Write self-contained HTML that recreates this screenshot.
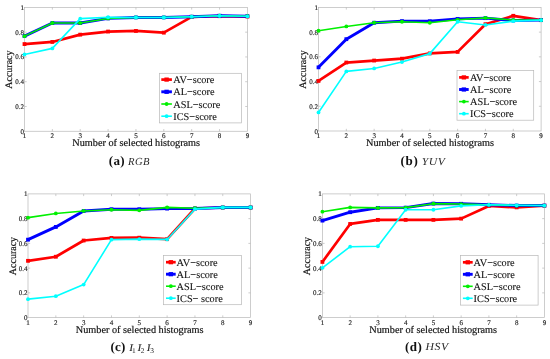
<!DOCTYPE html><html><head><meta charset="utf-8"><title>Figure</title>
<style>html,body{margin:0;padding:0;background:#fff}svg{display:block}text{font-family:"Liberation Serif",serif;text-rendering:geometricPrecision}</style></head><body>
<svg width="550" height="359" viewBox="0 0 550 359">
<rect width="550" height="359" fill="#fff"/>
<g>
<rect x="24.5" y="7.4" width="222.9" height="123.85" fill="none" stroke="#b8b8b8" stroke-width="0.7"/>
<path d="M52.36 131.25v-2.2M52.36 7.4v2.2M80.22 131.25v-2.2M80.22 7.4v2.2M108.09 131.25v-2.2M108.09 7.4v2.2M135.95 131.25v-2.2M135.95 7.4v2.2M163.81 131.25v-2.2M163.81 7.4v2.2M191.68 131.25v-2.2M191.68 7.4v2.2M219.54 131.25v-2.2M219.54 7.4v2.2M24.5 106.48h2.2M247.4 106.48h-2.2M24.5 81.71h2.2M247.4 81.71h-2.2M24.5 56.94h2.2M247.4 56.94h-2.2M24.5 32.17h2.2M247.4 32.17h-2.2" stroke="#b8b8b8" stroke-width="0.7" fill="none"/>
<g font-size="7" fill="#222" stroke="#222" stroke-width="0.15">
<text x="24.5" y="138.45" font-size="7" text-anchor="middle">1</text>
<text x="52.36" y="138.45" font-size="7" text-anchor="middle">2</text>
<text x="80.22" y="138.45" font-size="7" text-anchor="middle">3</text>
<text x="108.09" y="138.45" font-size="7" text-anchor="middle">4</text>
<text x="135.95" y="138.45" font-size="7" text-anchor="middle">5</text>
<text x="163.81" y="138.45" font-size="7" text-anchor="middle">6</text>
<text x="191.68" y="138.45" font-size="7" text-anchor="middle">7</text>
<text x="219.54" y="138.45" font-size="7" text-anchor="middle">8</text>
<text x="247.4" y="138.45" font-size="7" text-anchor="middle">9</text>
<text x="23.9" y="133.75" text-anchor="end">0</text>
<text x="23.9" y="108.98" text-anchor="end">0.2</text>
<text x="23.9" y="84.21" text-anchor="end">0.4</text>
<text x="23.9" y="59.44" text-anchor="end">0.6</text>
<text x="23.9" y="34.67" text-anchor="end">0.8</text>
<text x="23.9" y="9.9" text-anchor="end">1</text>
</g>
<text x="136.2" y="146.1" font-size="10.25" text-anchor="middle" fill="#111" stroke="#111" stroke-width="0.18">Number of selected histograms</text>
<text transform="translate(12.2 69.62) rotate(-90)" font-size="10" text-anchor="middle" fill="#111" stroke="#111" stroke-width="0.18">Accuracy</text>
<polyline points="24.5,44.06 52.36,41.95 80.22,34.65 108.09,31.55 135.95,30.93 163.81,32.67 191.68,16.81 219.54,16.19 247.4,16.56" fill="none" stroke="#ff0000" stroke-width="2.7" stroke-linejoin="round"/>
<rect x="22.6" y="42.16" width="3.8" height="3.8" fill="#ff0000"/>
<rect x="50.46" y="40.05" width="3.8" height="3.8" fill="#ff0000"/>
<rect x="78.32" y="32.75" width="3.8" height="3.8" fill="#ff0000"/>
<rect x="106.19" y="29.65" width="3.8" height="3.8" fill="#ff0000"/>
<rect x="134.05" y="29.03" width="3.8" height="3.8" fill="#ff0000"/>
<rect x="161.91" y="30.77" width="3.8" height="3.8" fill="#ff0000"/>
<rect x="189.78" y="14.91" width="3.8" height="3.8" fill="#ff0000"/>
<rect x="217.64" y="14.29" width="3.8" height="3.8" fill="#ff0000"/>
<rect x="245.5" y="14.66" width="3.8" height="3.8" fill="#ff0000"/>
<polyline points="24.5,36.13 52.36,23.01 80.22,23.01 108.09,18.42 135.95,17.43 163.81,17.43 191.68,16.69 219.54,15.7 247.4,16.19" fill="none" stroke="#0000ff" stroke-width="2.9" stroke-linejoin="round"/>
<rect x="22.6" y="34.23" width="3.8" height="3.8" fill="#0000ff"/>
<rect x="50.46" y="21.11" width="3.8" height="3.8" fill="#0000ff"/>
<rect x="78.32" y="21.11" width="3.8" height="3.8" fill="#0000ff"/>
<rect x="106.19" y="16.52" width="3.8" height="3.8" fill="#0000ff"/>
<rect x="134.05" y="15.53" width="3.8" height="3.8" fill="#0000ff"/>
<rect x="161.91" y="15.53" width="3.8" height="3.8" fill="#0000ff"/>
<rect x="189.78" y="14.79" width="3.8" height="3.8" fill="#0000ff"/>
<rect x="217.64" y="13.8" width="3.8" height="3.8" fill="#0000ff"/>
<rect x="245.5" y="14.29" width="3.8" height="3.8" fill="#0000ff"/>
<polyline points="24.5,36.13 52.36,23.01 80.22,23.01 108.09,18.42 135.95,17.43 163.81,17.43 191.68,16.69 219.54,15.7 247.4,16.19" fill="none" stroke="#00f000" stroke-width="1.6" stroke-linejoin="round"/>
<circle cx="24.5" cy="36.13" r="1.9" fill="#00f000"/>
<circle cx="52.36" cy="23.01" r="1.9" fill="#00f000"/>
<circle cx="80.22" cy="23.01" r="1.9" fill="#00f000"/>
<circle cx="108.09" cy="18.42" r="1.9" fill="#00f000"/>
<circle cx="135.95" cy="17.43" r="1.9" fill="#00f000"/>
<circle cx="163.81" cy="17.43" r="1.9" fill="#00f000"/>
<circle cx="191.68" cy="16.69" r="1.9" fill="#00f000"/>
<circle cx="219.54" cy="15.7" r="1.9" fill="#00f000"/>
<circle cx="247.4" cy="16.19" r="1.9" fill="#00f000"/>
<polyline points="24.5,54.46 52.36,48.39 80.22,18.67 108.09,17.18 135.95,17.43 163.81,17.43 191.68,16.69 219.54,15.82 247.4,16.32" fill="none" stroke="#00ffff" stroke-width="1.6" stroke-linejoin="round"/>
<circle cx="24.5" cy="54.46" r="1.9" fill="#00ffff"/>
<circle cx="52.36" cy="48.39" r="1.9" fill="#00ffff"/>
<circle cx="80.22" cy="18.67" r="1.9" fill="#00ffff"/>
<circle cx="108.09" cy="17.18" r="1.9" fill="#00ffff"/>
<circle cx="135.95" cy="17.43" r="1.9" fill="#00ffff"/>
<circle cx="163.81" cy="17.43" r="1.9" fill="#00ffff"/>
<circle cx="191.68" cy="16.69" r="1.9" fill="#00ffff"/>
<circle cx="219.54" cy="15.82" r="1.9" fill="#00ffff"/>
<circle cx="247.4" cy="16.32" r="1.9" fill="#00ffff"/>
<rect x="159.5" y="73.3" width="82.1" height="49.6" fill="#fff" stroke="#b8b8b8" stroke-width="0.7"/>
<line x1="161.3" y1="79.6" x2="171.9" y2="79.6" stroke="#ff0000" stroke-width="2.7"/>
<rect x="164.4" y="77.5" width="4.4" height="4.2" fill="#ff0000"/>
<text x="173.3" y="83.2" font-size="10.3" fill="#111" stroke="#111" stroke-width="0.1">AV−score</text>
<line x1="161.3" y1="91.8" x2="171.9" y2="91.8" stroke="#0000ff" stroke-width="2.9"/>
<rect x="164.4" y="89.7" width="4.4" height="4.2" fill="#0000ff"/>
<text x="173.3" y="95.4" font-size="10.3" fill="#111" stroke="#111" stroke-width="0.1">AL−score</text>
<line x1="161.3" y1="104" x2="171.9" y2="104" stroke="#00f000" stroke-width="1.6"/>
<circle cx="166.6" cy="104" r="1.9" fill="#00f000"/>
<text x="173.3" y="107.6" font-size="10.3" fill="#111" stroke="#111" stroke-width="0.1">ASL−score</text>
<line x1="161.3" y1="116.2" x2="171.9" y2="116.2" stroke="#00ffff" stroke-width="1.6"/>
<circle cx="166.6" cy="116.2" r="1.9" fill="#00ffff"/>
<text x="173.3" y="119.8" font-size="10.3" fill="#111" stroke="#111" stroke-width="0.1">ICS−score</text>
<text x="108.8" y="165" font-size="13" font-weight="bold" fill="#111" textLength="15.7" lengthAdjust="spacing">(a)</text>
<text transform="translate(128.1 164.7) scale(0.983 1)" font-size="10.8" font-style="italic" fill="#2a2a2a" textLength="21.88" lengthAdjust="spacing">RGB</text>
</g>
<g>
<rect x="318.5" y="7.4" width="222.6" height="123.6" fill="none" stroke="#b8b8b8" stroke-width="0.7"/>
<path d="M346.32 131v-2.2M346.32 7.4v2.2M374.15 131v-2.2M374.15 7.4v2.2M401.98 131v-2.2M401.98 7.4v2.2M429.8 131v-2.2M429.8 7.4v2.2M457.62 131v-2.2M457.62 7.4v2.2M485.45 131v-2.2M485.45 7.4v2.2M513.28 131v-2.2M513.28 7.4v2.2M318.5 106.28h2.2M541.1 106.28h-2.2M318.5 81.56h2.2M541.1 81.56h-2.2M318.5 56.84h2.2M541.1 56.84h-2.2M318.5 32.12h2.2M541.1 32.12h-2.2" stroke="#b8b8b8" stroke-width="0.7" fill="none"/>
<g font-size="7" fill="#222" stroke="#222" stroke-width="0.15">
<text x="318.5" y="138.2" font-size="7" text-anchor="middle">1</text>
<text x="346.32" y="138.2" font-size="7" text-anchor="middle">2</text>
<text x="374.15" y="138.2" font-size="7" text-anchor="middle">3</text>
<text x="401.98" y="138.2" font-size="7" text-anchor="middle">4</text>
<text x="429.8" y="138.2" font-size="7" text-anchor="middle">5</text>
<text x="457.62" y="138.2" font-size="7" text-anchor="middle">6</text>
<text x="485.45" y="138.2" font-size="7" text-anchor="middle">7</text>
<text x="513.28" y="138.2" font-size="7" text-anchor="middle">8</text>
<text x="541.1" y="138.2" font-size="7" text-anchor="middle">9</text>
<text x="317.9" y="133.5" text-anchor="end">0</text>
<text x="317.9" y="108.78" text-anchor="end">0.2</text>
<text x="317.9" y="84.06" text-anchor="end">0.4</text>
<text x="317.9" y="59.34" text-anchor="end">0.6</text>
<text x="317.9" y="34.62" text-anchor="end">0.8</text>
<text x="317.9" y="9.9" text-anchor="end">1</text>
</g>
<text x="430" y="146.1" font-size="10.25" text-anchor="middle" fill="#111" stroke="#111" stroke-width="0.18">Number of selected histograms</text>
<text transform="translate(306.2 69.5) rotate(-90)" font-size="10" text-anchor="middle" fill="#111" stroke="#111" stroke-width="0.18">Accuracy</text>
<polyline points="318.5,80.94 346.32,62.53 374.15,60.55 401.98,58.69 429.8,53.38 457.62,51.9 485.45,24.21 513.28,15.8 541.1,20.13" fill="none" stroke="#ff0000" stroke-width="2.7" stroke-linejoin="round"/>
<rect x="316.6" y="79.04" width="3.8" height="3.8" fill="#ff0000"/>
<rect x="344.43" y="60.63" width="3.8" height="3.8" fill="#ff0000"/>
<rect x="372.25" y="58.65" width="3.8" height="3.8" fill="#ff0000"/>
<rect x="400.08" y="56.79" width="3.8" height="3.8" fill="#ff0000"/>
<rect x="427.9" y="51.48" width="3.8" height="3.8" fill="#ff0000"/>
<rect x="455.73" y="50" width="3.8" height="3.8" fill="#ff0000"/>
<rect x="483.55" y="22.31" width="3.8" height="3.8" fill="#ff0000"/>
<rect x="511.38" y="13.9" width="3.8" height="3.8" fill="#ff0000"/>
<rect x="539.2" y="18.23" width="3.8" height="3.8" fill="#ff0000"/>
<polyline points="318.5,67.35 346.32,39.17 374.15,22.73 401.98,21.12 429.8,21.24 457.62,18.89 485.45,18.15 513.28,20.5 541.1,20.13" fill="none" stroke="#0000ff" stroke-width="2.9" stroke-linejoin="round"/>
<rect x="316.6" y="65.45" width="3.8" height="3.8" fill="#0000ff"/>
<rect x="344.43" y="37.27" width="3.8" height="3.8" fill="#0000ff"/>
<rect x="372.25" y="20.83" width="3.8" height="3.8" fill="#0000ff"/>
<rect x="400.08" y="19.22" width="3.8" height="3.8" fill="#0000ff"/>
<rect x="427.9" y="19.34" width="3.8" height="3.8" fill="#0000ff"/>
<rect x="455.73" y="16.99" width="3.8" height="3.8" fill="#0000ff"/>
<rect x="483.55" y="16.25" width="3.8" height="3.8" fill="#0000ff"/>
<rect x="511.38" y="18.6" width="3.8" height="3.8" fill="#0000ff"/>
<rect x="539.2" y="18.23" width="3.8" height="3.8" fill="#0000ff"/>
<polyline points="318.5,30.76 346.32,26.43 374.15,22.73 401.98,21.74 429.8,22.73 457.62,19.76 485.45,17.91 513.28,20.01 541.1,20.13" fill="none" stroke="#00f000" stroke-width="1.6" stroke-linejoin="round"/>
<circle cx="318.5" cy="30.76" r="1.9" fill="#00f000"/>
<circle cx="346.32" cy="26.43" r="1.9" fill="#00f000"/>
<circle cx="374.15" cy="22.73" r="1.9" fill="#00f000"/>
<circle cx="401.98" cy="21.74" r="1.9" fill="#00f000"/>
<circle cx="429.8" cy="22.73" r="1.9" fill="#00f000"/>
<circle cx="457.62" cy="19.76" r="1.9" fill="#00f000"/>
<circle cx="485.45" cy="17.91" r="1.9" fill="#00f000"/>
<circle cx="513.28" cy="20.01" r="1.9" fill="#00f000"/>
<circle cx="541.1" cy="20.13" r="1.9" fill="#00f000"/>
<polyline points="318.5,112.46 346.32,71.42 374.15,68.46 401.98,62.03 429.8,53.63 457.62,21.74 485.45,24.95 513.28,21.12 541.1,20.13" fill="none" stroke="#00ffff" stroke-width="1.6" stroke-linejoin="round"/>
<circle cx="318.5" cy="112.46" r="1.9" fill="#00ffff"/>
<circle cx="346.32" cy="71.42" r="1.9" fill="#00ffff"/>
<circle cx="374.15" cy="68.46" r="1.9" fill="#00ffff"/>
<circle cx="401.98" cy="62.03" r="1.9" fill="#00ffff"/>
<circle cx="429.8" cy="53.63" r="1.9" fill="#00ffff"/>
<circle cx="457.62" cy="21.74" r="1.9" fill="#00ffff"/>
<circle cx="485.45" cy="24.95" r="1.9" fill="#00ffff"/>
<circle cx="513.28" cy="21.12" r="1.9" fill="#00ffff"/>
<circle cx="541.1" cy="20.13" r="1.9" fill="#00ffff"/>
<rect x="457" y="70.6" width="76.7" height="49.6" fill="#fff" stroke="#b8b8b8" stroke-width="0.7"/>
<line x1="459.1" y1="77.4" x2="468.7" y2="77.4" stroke="#ff0000" stroke-width="2.7"/>
<rect x="461.7" y="75.3" width="4.4" height="4.2" fill="#ff0000"/>
<text x="470" y="81" font-size="10.3" fill="#111" stroke="#111" stroke-width="0.1">AV−score</text>
<line x1="459.1" y1="89.5" x2="468.7" y2="89.5" stroke="#0000ff" stroke-width="2.9"/>
<rect x="461.7" y="87.4" width="4.4" height="4.2" fill="#0000ff"/>
<text x="470" y="93.1" font-size="10.3" fill="#111" stroke="#111" stroke-width="0.1">AL−score</text>
<line x1="459.1" y1="101.6" x2="468.7" y2="101.6" stroke="#00f000" stroke-width="1.6"/>
<circle cx="463.9" cy="101.6" r="1.9" fill="#00f000"/>
<text x="470" y="105.2" font-size="10.3" fill="#111" stroke="#111" stroke-width="0.1">ASL−score</text>
<line x1="459.1" y1="113.7" x2="468.7" y2="113.7" stroke="#00ffff" stroke-width="1.6"/>
<circle cx="463.9" cy="113.7" r="1.9" fill="#00ffff"/>
<text x="470" y="117.3" font-size="10.3" fill="#111" stroke="#111" stroke-width="0.1">ICS−score</text>
<text x="400.6" y="165" font-size="13" font-weight="bold" fill="#111" textLength="17.2" lengthAdjust="spacing">(b)</text>
<text transform="translate(421.7 164.7) scale(1.091 1)" font-size="10.8" font-style="italic" fill="#2a2a2a" textLength="21.26" lengthAdjust="spacing">YUV</text>
</g>
<g>
<rect x="28" y="193.9" width="222.6" height="123.7" fill="none" stroke="#b8b8b8" stroke-width="0.7"/>
<path d="M55.83 317.6v-2.2M55.83 193.9v2.2M83.65 317.6v-2.2M83.65 193.9v2.2M111.47 317.6v-2.2M111.47 193.9v2.2M139.3 317.6v-2.2M139.3 193.9v2.2M167.12 317.6v-2.2M167.12 193.9v2.2M194.95 317.6v-2.2M194.95 193.9v2.2M222.78 317.6v-2.2M222.78 193.9v2.2M28 292.86h2.2M250.6 292.86h-2.2M28 268.12h2.2M250.6 268.12h-2.2M28 243.38h2.2M250.6 243.38h-2.2M28 218.64h2.2M250.6 218.64h-2.2" stroke="#b8b8b8" stroke-width="0.7" fill="none"/>
<g font-size="7" fill="#222" stroke="#222" stroke-width="0.15">
<text x="28" y="324.8" font-size="7" text-anchor="middle">1</text>
<text x="55.83" y="324.8" font-size="7" text-anchor="middle">2</text>
<text x="83.65" y="324.8" font-size="7" text-anchor="middle">3</text>
<text x="111.47" y="324.8" font-size="7" text-anchor="middle">4</text>
<text x="139.3" y="324.8" font-size="7" text-anchor="middle">5</text>
<text x="167.12" y="324.8" font-size="7" text-anchor="middle">6</text>
<text x="194.95" y="324.8" font-size="7" text-anchor="middle">7</text>
<text x="222.78" y="324.8" font-size="7" text-anchor="middle">8</text>
<text x="250.6" y="324.8" font-size="7" text-anchor="middle">9</text>
<text x="27.4" y="320.1" text-anchor="end">0</text>
<text x="27.4" y="295.36" text-anchor="end">0.2</text>
<text x="27.4" y="270.62" text-anchor="end">0.4</text>
<text x="27.4" y="245.88" text-anchor="end">0.6</text>
<text x="27.4" y="221.14" text-anchor="end">0.8</text>
<text x="27.4" y="196.4" text-anchor="end">1</text>
</g>
<text x="139.7" y="332.7" font-size="10.25" text-anchor="middle" fill="#111" stroke="#111" stroke-width="0.18">Number of selected histograms</text>
<text transform="translate(15.6 256.05) rotate(-90)" font-size="10" text-anchor="middle" fill="#111" stroke="#111" stroke-width="0.18">Accuracy</text>
<polyline points="28,260.82 55.83,256.74 83.65,240.53 111.47,237.94 139.3,237.69 167.12,239.17 194.95,208.5 222.78,207.51 250.6,207.51" fill="none" stroke="#ff0000" stroke-width="2.7" stroke-linejoin="round"/>
<rect x="26.1" y="258.92" width="3.8" height="3.8" fill="#ff0000"/>
<rect x="53.93" y="254.84" width="3.8" height="3.8" fill="#ff0000"/>
<rect x="81.75" y="238.63" width="3.8" height="3.8" fill="#ff0000"/>
<rect x="109.57" y="236.04" width="3.8" height="3.8" fill="#ff0000"/>
<rect x="137.4" y="235.79" width="3.8" height="3.8" fill="#ff0000"/>
<rect x="165.22" y="237.27" width="3.8" height="3.8" fill="#ff0000"/>
<rect x="193.05" y="206.6" width="3.8" height="3.8" fill="#ff0000"/>
<rect x="220.88" y="205.61" width="3.8" height="3.8" fill="#ff0000"/>
<rect x="248.7" y="205.61" width="3.8" height="3.8" fill="#ff0000"/>
<polyline points="28,239.67 55.83,226.93 83.65,210.97 111.47,209.24 139.3,209.24 167.12,208.62 194.95,208.5 222.78,207.51 250.6,207.51" fill="none" stroke="#0000ff" stroke-width="2.9" stroke-linejoin="round"/>
<rect x="26.1" y="237.77" width="3.8" height="3.8" fill="#0000ff"/>
<rect x="53.93" y="225.03" width="3.8" height="3.8" fill="#0000ff"/>
<rect x="81.75" y="209.07" width="3.8" height="3.8" fill="#0000ff"/>
<rect x="109.57" y="207.34" width="3.8" height="3.8" fill="#0000ff"/>
<rect x="137.4" y="207.34" width="3.8" height="3.8" fill="#0000ff"/>
<rect x="165.22" y="206.72" width="3.8" height="3.8" fill="#0000ff"/>
<rect x="193.05" y="206.6" width="3.8" height="3.8" fill="#0000ff"/>
<rect x="220.88" y="205.61" width="3.8" height="3.8" fill="#0000ff"/>
<rect x="248.7" y="205.61" width="3.8" height="3.8" fill="#0000ff"/>
<polyline points="28,217.65 55.83,213.44 83.65,210.97 111.47,209.73 139.3,210.35 167.12,207.38 194.95,208.25 222.78,207.51 250.6,207.51" fill="none" stroke="#00f000" stroke-width="1.6" stroke-linejoin="round"/>
<circle cx="28" cy="217.65" r="1.9" fill="#00f000"/>
<circle cx="55.83" cy="213.44" r="1.9" fill="#00f000"/>
<circle cx="83.65" cy="210.97" r="1.9" fill="#00f000"/>
<circle cx="111.47" cy="209.73" r="1.9" fill="#00f000"/>
<circle cx="139.3" cy="210.35" r="1.9" fill="#00f000"/>
<circle cx="167.12" cy="207.38" r="1.9" fill="#00f000"/>
<circle cx="194.95" cy="208.25" r="1.9" fill="#00f000"/>
<circle cx="222.78" cy="207.51" r="1.9" fill="#00f000"/>
<circle cx="250.6" cy="207.51" r="1.9" fill="#00f000"/>
<polyline points="28,299.17 55.83,296.2 83.65,284.57 111.47,239.67 139.3,239.17 167.12,239.42 194.95,209.12 222.78,207.38 250.6,207.38" fill="none" stroke="#00ffff" stroke-width="1.6" stroke-linejoin="round"/>
<circle cx="28" cy="299.17" r="1.9" fill="#00ffff"/>
<circle cx="55.83" cy="296.2" r="1.9" fill="#00ffff"/>
<circle cx="83.65" cy="284.57" r="1.9" fill="#00ffff"/>
<circle cx="111.47" cy="239.67" r="1.9" fill="#00ffff"/>
<circle cx="139.3" cy="239.17" r="1.9" fill="#00ffff"/>
<circle cx="167.12" cy="239.42" r="1.9" fill="#00ffff"/>
<circle cx="194.95" cy="209.12" r="1.9" fill="#00ffff"/>
<circle cx="222.78" cy="207.38" r="1.9" fill="#00ffff"/>
<circle cx="250.6" cy="207.38" r="1.9" fill="#00ffff"/>
<rect x="163.4" y="255.6" width="78.2" height="49.1" fill="#fff" stroke="#b8b8b8" stroke-width="0.7"/>
<line x1="166" y1="262.2" x2="175.7" y2="262.2" stroke="#ff0000" stroke-width="2.7"/>
<rect x="168.65" y="260.1" width="4.4" height="4.2" fill="#ff0000"/>
<text x="176.6" y="266.3" font-size="10.3" fill="#111" stroke="#111" stroke-width="0.1">AV−score</text>
<line x1="166" y1="274.2" x2="175.7" y2="274.2" stroke="#0000ff" stroke-width="2.9"/>
<rect x="168.65" y="272.1" width="4.4" height="4.2" fill="#0000ff"/>
<text x="176.6" y="278.3" font-size="10.3" fill="#111" stroke="#111" stroke-width="0.1">AL−score</text>
<line x1="166" y1="286.2" x2="175.7" y2="286.2" stroke="#00f000" stroke-width="1.6"/>
<circle cx="170.85" cy="286.2" r="1.9" fill="#00f000"/>
<text x="176.6" y="290.3" font-size="10.3" fill="#111" stroke="#111" stroke-width="0.1">ASL−score</text>
<line x1="166" y1="298.2" x2="175.7" y2="298.2" stroke="#00ffff" stroke-width="1.6"/>
<circle cx="170.85" cy="298.2" r="1.9" fill="#00ffff"/>
<text x="176.6" y="302.3" font-size="10.3" fill="#111" stroke="#111" stroke-width="0.1">ICS− score</text>
<text x="110.6" y="350.5" font-size="13" font-weight="bold" fill="#111" textLength="14.8" lengthAdjust="spacing">(c)</text>
<text x="129.4" y="350.5" font-size="10" font-style="italic" fill="#222" stroke="#222" stroke-width="0.2">I</text>
<text x="131.9" y="353.1" font-size="7.4" fill="#222">1</text>
<text x="137.8" y="350.5" font-size="10" font-style="italic" fill="#222" stroke="#222" stroke-width="0.2">I</text>
<text x="140.8" y="353.1" font-size="7.4" fill="#222">2</text>
<text x="147" y="350.5" font-size="10" font-style="italic" fill="#222" stroke="#222" stroke-width="0.2">I</text>
<text x="150.3" y="353.1" font-size="7.4" fill="#222">3</text>
</g>
<g>
<rect x="322.4" y="193.9" width="222" height="123.7" fill="none" stroke="#b8b8b8" stroke-width="0.7"/>
<path d="M350.15 317.6v-2.2M350.15 193.9v2.2M377.9 317.6v-2.2M377.9 193.9v2.2M405.65 317.6v-2.2M405.65 193.9v2.2M433.4 317.6v-2.2M433.4 193.9v2.2M461.15 317.6v-2.2M461.15 193.9v2.2M488.9 317.6v-2.2M488.9 193.9v2.2M516.65 317.6v-2.2M516.65 193.9v2.2M322.4 292.86h2.2M544.4 292.86h-2.2M322.4 268.12h2.2M544.4 268.12h-2.2M322.4 243.38h2.2M544.4 243.38h-2.2M322.4 218.64h2.2M544.4 218.64h-2.2" stroke="#b8b8b8" stroke-width="0.7" fill="none"/>
<g font-size="7" fill="#222" stroke="#222" stroke-width="0.15">
<text x="322.4" y="324.8" font-size="7" text-anchor="middle">1</text>
<text x="350.15" y="324.8" font-size="7" text-anchor="middle">2</text>
<text x="377.9" y="324.8" font-size="7" text-anchor="middle">3</text>
<text x="405.65" y="324.8" font-size="7" text-anchor="middle">4</text>
<text x="433.4" y="324.8" font-size="7" text-anchor="middle">5</text>
<text x="461.15" y="324.8" font-size="7" text-anchor="middle">6</text>
<text x="488.9" y="324.8" font-size="7" text-anchor="middle">7</text>
<text x="516.65" y="324.8" font-size="7" text-anchor="middle">8</text>
<text x="544.4" y="324.8" font-size="7" text-anchor="middle">9</text>
<text x="321.8" y="320.1" text-anchor="end">0</text>
<text x="321.8" y="295.36" text-anchor="end">0.2</text>
<text x="321.8" y="270.62" text-anchor="end">0.4</text>
<text x="321.8" y="245.88" text-anchor="end">0.6</text>
<text x="321.8" y="221.14" text-anchor="end">0.8</text>
<text x="321.8" y="196.4" text-anchor="end">1</text>
</g>
<text x="433.2" y="332.7" font-size="10.25" text-anchor="middle" fill="#111" stroke="#111" stroke-width="0.18">Number of selected histograms</text>
<text transform="translate(310.1 256.05) rotate(-90)" font-size="10" text-anchor="middle" fill="#111" stroke="#111" stroke-width="0.18">Accuracy</text>
<polyline points="322.4,261.94 350.15,223.96 377.9,219.88 405.65,219.88 433.4,219.88 461.15,218.64 488.9,205.9 516.65,207.38 544.4,205.65" fill="none" stroke="#ff0000" stroke-width="2.7" stroke-linejoin="round"/>
<rect x="320.5" y="260.04" width="3.8" height="3.8" fill="#ff0000"/>
<rect x="348.25" y="222.06" width="3.8" height="3.8" fill="#ff0000"/>
<rect x="376" y="217.98" width="3.8" height="3.8" fill="#ff0000"/>
<rect x="403.75" y="217.98" width="3.8" height="3.8" fill="#ff0000"/>
<rect x="431.5" y="217.98" width="3.8" height="3.8" fill="#ff0000"/>
<rect x="459.25" y="216.74" width="3.8" height="3.8" fill="#ff0000"/>
<rect x="487" y="204" width="3.8" height="3.8" fill="#ff0000"/>
<rect x="514.75" y="205.48" width="3.8" height="3.8" fill="#ff0000"/>
<rect x="542.5" y="203.75" width="3.8" height="3.8" fill="#ff0000"/>
<polyline points="322.4,220.62 350.15,212.21 377.9,207.88 405.65,207.63 433.4,203.55 461.15,203.8 488.9,204.79 516.65,205.53 544.4,205.53" fill="none" stroke="#0000ff" stroke-width="2.9" stroke-linejoin="round"/>
<rect x="320.5" y="218.72" width="3.8" height="3.8" fill="#0000ff"/>
<rect x="348.25" y="210.31" width="3.8" height="3.8" fill="#0000ff"/>
<rect x="376" y="205.98" width="3.8" height="3.8" fill="#0000ff"/>
<rect x="403.75" y="205.73" width="3.8" height="3.8" fill="#0000ff"/>
<rect x="431.5" y="201.65" width="3.8" height="3.8" fill="#0000ff"/>
<rect x="459.25" y="201.9" width="3.8" height="3.8" fill="#0000ff"/>
<rect x="487" y="202.89" width="3.8" height="3.8" fill="#0000ff"/>
<rect x="514.75" y="203.63" width="3.8" height="3.8" fill="#0000ff"/>
<rect x="542.5" y="203.63" width="3.8" height="3.8" fill="#0000ff"/>
<polyline points="322.4,211.71 350.15,207.38 377.9,207.88 405.65,207.63 433.4,203.67 461.15,204.04 488.9,204.79 516.65,205.53 544.4,205.53" fill="none" stroke="#00f000" stroke-width="1.6" stroke-linejoin="round"/>
<circle cx="322.4" cy="211.71" r="1.9" fill="#00f000"/>
<circle cx="350.15" cy="207.38" r="1.9" fill="#00f000"/>
<circle cx="377.9" cy="207.88" r="1.9" fill="#00f000"/>
<circle cx="405.65" cy="207.63" r="1.9" fill="#00f000"/>
<circle cx="433.4" cy="203.67" r="1.9" fill="#00f000"/>
<circle cx="461.15" cy="204.04" r="1.9" fill="#00f000"/>
<circle cx="488.9" cy="204.79" r="1.9" fill="#00f000"/>
<circle cx="516.65" cy="205.53" r="1.9" fill="#00f000"/>
<circle cx="544.4" cy="205.53" r="1.9" fill="#00f000"/>
<polyline points="322.4,267.87 350.15,246.72 377.9,246.23 405.65,209.73 433.4,209.73 461.15,205.9 488.9,204.79 516.65,205.28 544.4,205.53" fill="none" stroke="#00ffff" stroke-width="1.6" stroke-linejoin="round"/>
<circle cx="322.4" cy="267.87" r="1.9" fill="#00ffff"/>
<circle cx="350.15" cy="246.72" r="1.9" fill="#00ffff"/>
<circle cx="377.9" cy="246.23" r="1.9" fill="#00ffff"/>
<circle cx="405.65" cy="209.73" r="1.9" fill="#00ffff"/>
<circle cx="433.4" cy="209.73" r="1.9" fill="#00ffff"/>
<circle cx="461.15" cy="205.9" r="1.9" fill="#00ffff"/>
<circle cx="488.9" cy="204.79" r="1.9" fill="#00ffff"/>
<circle cx="516.65" cy="205.28" r="1.9" fill="#00ffff"/>
<circle cx="544.4" cy="205.53" r="1.9" fill="#00ffff"/>
<rect x="460.6" y="255.6" width="77.5" height="49.5" fill="#fff" stroke="#b8b8b8" stroke-width="0.7"/>
<line x1="462.9" y1="262.3" x2="472.7" y2="262.3" stroke="#ff0000" stroke-width="2.7"/>
<rect x="465.6" y="260.2" width="4.4" height="4.2" fill="#ff0000"/>
<text x="473.6" y="266.3" font-size="10.3" fill="#111" stroke="#111" stroke-width="0.1">AV−score</text>
<line x1="462.9" y1="274.3" x2="472.7" y2="274.3" stroke="#0000ff" stroke-width="2.9"/>
<rect x="465.6" y="272.2" width="4.4" height="4.2" fill="#0000ff"/>
<text x="473.6" y="278.3" font-size="10.3" fill="#111" stroke="#111" stroke-width="0.1">AL−score</text>
<line x1="462.9" y1="286.3" x2="472.7" y2="286.3" stroke="#00f000" stroke-width="1.6"/>
<circle cx="467.8" cy="286.3" r="1.9" fill="#00f000"/>
<text x="473.6" y="290.3" font-size="10.3" fill="#111" stroke="#111" stroke-width="0.1">ASL−score</text>
<line x1="462.9" y1="298.3" x2="472.7" y2="298.3" stroke="#00ffff" stroke-width="1.6"/>
<circle cx="467.8" cy="298.3" r="1.9" fill="#00ffff"/>
<text x="473.6" y="302.3" font-size="10.3" fill="#111" stroke="#111" stroke-width="0.1">ICS−score</text>
<text x="404.9" y="350.5" font-size="13" font-weight="bold" fill="#111" textLength="17" lengthAdjust="spacing">(d)</text>
<text transform="translate(425.6 350.2) scale(1.095 1)" font-size="10.8" font-style="italic" fill="#2a2a2a" textLength="20.63" lengthAdjust="spacing">HSV</text>
</g>
</svg></body></html>
